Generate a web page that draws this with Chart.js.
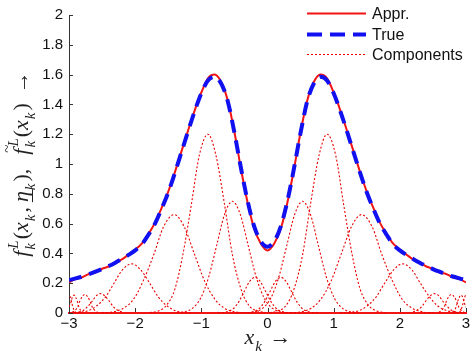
<!DOCTYPE html>
<html>
<head>
<meta charset="utf-8">
<script src="https://cdn.jsdelivr.net/npm/chart.js@4.4.1/dist/chart.umd.min.js"></script>
<style>
  html, body { margin: 0; padding: 0; background: #fff; }
  canvas { display: block; }
</style>
</head>
<body>
<canvas id="myChart" width="474" height="351"></canvas>
<script>
// x grid of the two main curves
const xGrid = [-3, -2.9, -2.8, -2.7, -2.6, -2.5, -2.4, -2.3, -2.2, -2.1, -2, -1.9, -1.8, -1.7, -1.6, -1.5, -1.4, -1.3, -1.2, -1.1,
  -1, -0.9, -0.8, -0.7, -0.6, -0.5, -0.4, -0.3, -0.2, -0.1, 0, 0.1, 0.2, 0.3, 0.4, 0.5, 0.6, 0.7, 0.8, 0.9,
  1, 1.1, 1.2, 1.3, 1.4, 1.5, 1.6, 1.7, 1.8, 1.9, 2, 2.1, 2.2, 2.3, 2.4, 2.5, 2.6, 2.7, 2.8, 2.9, 3];

const trueValues = [0.22, 0.232, 0.245, 0.26, 0.277, 0.295, 0.315, 0.338, 0.363, 0.39, 0.42, 0.46, 0.525, 0.6, 0.7, 0.81, 0.94, 1.08, 1.22, 1.355,
  1.475, 1.56, 1.585, 1.54, 1.42, 1.21, 0.97, 0.75, 0.58, 0.48, 0.445, 0.48, 0.58, 0.75, 0.97, 1.21, 1.42, 1.54, 1.585, 1.56,
  1.475, 1.355, 1.22, 1.08, 0.94, 0.81, 0.7, 0.6, 0.525, 0.46, 0.42, 0.39, 0.363, 0.338, 0.315, 0.295, 0.277, 0.26, 0.245, 0.232, 0.22];

const apprValues = [0.205, 0.228, 0.24, 0.262, 0.272, 0.297, 0.312, 0.34, 0.36, 0.392, 0.425, 0.465, 0.53, 0.605, 0.705, 0.815, 0.945, 1.085, 1.225, 1.36,
  1.48, 1.575, 1.6, 1.55, 1.425, 1.215, 0.965, 0.74, 0.565, 0.465, 0.42, 0.465, 0.565, 0.74, 0.965, 1.215, 1.425, 1.55, 1.6, 1.575,
  1.48, 1.36, 1.225, 1.085, 0.945, 0.815, 0.705, 0.605, 0.53, 0.465, 0.425, 0.392, 0.36, 0.34, 0.312, 0.297, 0.272, 0.262, 0.24, 0.228, 0.205];

// the dotted components, one x list and one y list each
const componentXs = [
  [-1.78, -1.65, -1.53, -1.4, -1.28, -1.15, -1.03, -0.9, -0.78, -0.65, -0.53, -0.4, -0.28, -0.15, -0.03],
  [-1.37, -1.25, -1.13, -1.01, -0.89, -0.77, -0.65, -0.53, -0.41, -0.29, -0.17, -0.05, 0.07, 0.19, 0.31],
  [-2.5, -2.34, -2.19, -2.03, -1.88, -1.72, -1.57, -1.41, -1.26, -1.1, -0.95, -0.79, -0.64, -0.48, -0.33],
  [-2.99, -2.86, -2.72, -2.59, -2.45, -2.32, -2.19, -2.05, -1.92, -1.78, -1.65, -1.51, -1.38, -1.24, -1.11],
  [-0.75, -0.67, -0.59, -0.51, -0.43, -0.35, -0.27, -0.19, -0.11, -0.03, 0.05, 0.13, 0.21, 0.29, 0.37],
  [-2.85, -2.78, -2.72, -2.65, -2.59, -2.52, -2.46, -2.39, -2.33, -2.26, -2.2],
  [-2.95, -2.91, -2.87, -2.84, -2.8, -2.76, -2.72, -2.68, -2.65, -2.61, -2.57],
  [-3.05, -3.02, -3, -2.97, -2.95, -2.92, -2.9, -2.87, -2.85, -2.82, -2.8],
  [-3.1, -3.08, -3.06, -3.04, -3.02, -3, -2.98, -2.96, -2.94, -2.92, -2.9],
  [0.03, 0.15, 0.28, 0.4, 0.53, 0.65, 0.78, 0.9, 1.03, 1.15, 1.28, 1.4, 1.53, 1.65, 1.78],
  [-0.31, -0.19, -0.07, 0.05, 0.17, 0.29, 0.41, 0.53, 0.65, 0.77, 0.89, 1.01, 1.13, 1.25, 1.37],
  [0.34, 0.49, 0.65, 0.8, 0.96, 1.11, 1.27, 1.42, 1.58, 1.73, 1.89, 2.04, 2.2, 2.35, 2.51],
  [1.1, 1.23, 1.37, 1.5, 1.64, 1.77, 1.91, 2.04, 2.18, 2.31, 2.45, 2.58, 2.72, 2.85, 2.99],
  [-0.36, -0.28, -0.2, -0.12, -0.04, 0.04, 0.12, 0.2, 0.28, 0.36, 0.44, 0.52, 0.6, 0.68, 0.76],
  [2.2, 2.26, 2.33, 2.39, 2.46, 2.52, 2.59, 2.65, 2.72, 2.78, 2.85],
  [2.59, 2.63, 2.67, 2.7, 2.74, 2.78, 2.82, 2.86, 2.89, 2.93, 2.97],
  [2.8, 2.82, 2.85, 2.87, 2.9, 2.92, 2.95, 2.97, 3, 3.02, 3.05],
  [2.9, 2.92, 2.94, 2.96, 2.98, 3, 3.02, 3.04, 3.06, 3.08, 3.1]
];

const componentYs = [
  [0.003, 0.013, 0.05, 0.16, 0.39, 0.73, 1.06, 1.2, 1.06, 0.73, 0.39, 0.16, 0.05, 0.013, 0.003],
  [0.002, 0.008, 0.033, 0.1, 0.24, 0.45, 0.66, 0.75, 0.66, 0.45, 0.24, 0.1, 0.033, 0.008, 0.002],
  [0.001, 0.007, 0.029, 0.089, 0.214, 0.39, 0.58, 0.66, 0.58, 0.39, 0.214, 0.089, 0.029, 0.007, 0.001],
  [0.001, 0.004, 0.014, 0.045, 0.107, 0.2, 0.291, 0.33, 0.291, 0.2, 0.107, 0.045, 0.014, 0.004, 0.001],
  [0.001, 0.003, 0.011, 0.032, 0.078, 0.146, 0.212, 0.24, 0.212, 0.146, 0.078, 0.032, 0.011, 0.003, 0.001],
  [0.006, 0.018, 0.042, 0.079, 0.115, 0.13, 0.115, 0.079, 0.042, 0.018, 0.006],
  [0.005, 0.017, 0.041, 0.076, 0.11, 0.125, 0.11, 0.076, 0.041, 0.017, 0.005],
  [0.005, 0.016, 0.039, 0.073, 0.106, 0.12, 0.106, 0.073, 0.039, 0.016, 0.005],
  [0.005, 0.016, 0.039, 0.073, 0.106, 0.12, 0.106, 0.073, 0.039, 0.016, 0.005],
  [0.003, 0.013, 0.05, 0.16, 0.39, 0.73, 1.06, 1.2, 1.06, 0.73, 0.39, 0.16, 0.05, 0.013, 0.003],
  [0.002, 0.008, 0.033, 0.1, 0.24, 0.45, 0.66, 0.75, 0.66, 0.45, 0.24, 0.1, 0.033, 0.008, 0.002],
  [0.001, 0.007, 0.029, 0.089, 0.214, 0.39, 0.58, 0.66, 0.58, 0.39, 0.214, 0.089, 0.029, 0.007, 0.001],
  [0.001, 0.004, 0.014, 0.045, 0.107, 0.2, 0.291, 0.33, 0.291, 0.2, 0.107, 0.045, 0.014, 0.004, 0.001],
  [0.001, 0.003, 0.011, 0.032, 0.078, 0.146, 0.212, 0.24, 0.212, 0.146, 0.078, 0.032, 0.011, 0.003, 0.001],
  [0.006, 0.018, 0.042, 0.079, 0.115, 0.13, 0.115, 0.079, 0.042, 0.018, 0.006],
  [0.005, 0.017, 0.041, 0.076, 0.11, 0.125, 0.11, 0.076, 0.041, 0.017, 0.005],
  [0.005, 0.016, 0.039, 0.073, 0.106, 0.12, 0.106, 0.073, 0.039, 0.016, 0.005],
  [0.005, 0.016, 0.039, 0.073, 0.106, 0.12, 0.106, 0.073, 0.039, 0.016, 0.005]
];

const legendLabels = ["Appr.", "True", "Components"];
const xTicks = [-3, -2, -1, 0, 1, 2, 3];
const yTicks = [0, 0.2, 0.4, 0.6, 0.8, 1, 1.2, 1.4, 1.6, 1.8, 2];

const RED = "#f01414";
const BLUE = "#1010f0";
const DOT_RED = "rgba(235,0,0,1)";

function points(xs, ys){
	let pts = [];
	for(let i = 0; i < xs.length; i++){
		pts.push({x: xs[i], y: ys[i]});
	}
	return pts;
}

// text with sub/superscripts, returns its width
function drawRich(ctx, parts, x0, y, size, draw){
	let x = x0;
	let small = Math.round(size * 0.7);
	for(let i = 0; i < parts.length; i++){
		let p = parts[i];
		if(p.t !== undefined){
			ctx.font = (p.it ? "italic " : "") + size + "px 'Liberation Serif'";
			let w = ctx.measureText(p.t).width;
			if(draw){
				ctx.fillText(p.t, x, y);
				if(p.ul){
					ctx.fillRect(x, y + 4, w + 2, 1);
				}
				if(p.tilde){
					ctx.font = small + "px 'Liberation Serif'";
					ctx.fillText("~", x + 2, y - size * 0.74);
				}
			}
			x += w + (p.gap || 0);
		} else {
			ctx.font = "italic " + small + "px 'Liberation Serif'";
			let w1 = p.sup ? ctx.measureText(p.sup).width : 0;
			let w2 = p.sub ? ctx.measureText(p.sub).width : 0;
			if(draw){
				if(p.sup) ctx.fillText(p.sup, x + 2, y - size * 0.45);
				if(p.sub) ctx.fillText(p.sub, x + 1, y + size * 0.3);
			}
			x += Math.max(w1, w2) + 3;
		}
	}
	return x - x0;
}

const yTitle = [
	{t: "f", it: 1}, {sup: "L", sub: "k"}, {t: "("}, {t: "x", it: 1}, {sub: "k"}, {t: ",", gap: 5},
	{t: "\u03B7", it: 1, ul: 1}, {sub: "k"}, {t: "),", gap: 14},
	{t: "f", it: 1, tilde: 1}, {sup: "L", sub: "k"}, {t: "("}, {t: "x", it: 1}, {sub: "k"}, {t: ")", gap: 10}, {t: "\u2192"}
];
const xTitle = [{t: "x", it: 1}, {sub: "k", gap: 0}, {t: " \u2192"}];

const decorPlugin = {
	id: "decor",
	afterDraw(chart){
		let ctx = chart.ctx;
		let a = chart.chartArea;
		let sx = chart.scales.x;
		let sy = chart.scales.y;
		ctx.save();

		// inward tick marks
		ctx.strokeStyle = "#333";
		ctx.lineWidth = 1;
		ctx.beginPath();
		for(let i = 0; i < yTicks.length; i++){
			let py = Math.round(sy.getPixelForValue(yTicks[i])) + 0.5;
			ctx.moveTo(a.left, py);
			ctx.lineTo(a.left + 4, py);
		}
		for(let i = 0; i < xTicks.length; i++){
			let px = Math.round(sx.getPixelForValue(xTicks[i])) + 0.5;
			ctx.moveTo(px, a.bottom - 1);
			ctx.lineTo(px, a.bottom - 5);
		}
		ctx.stroke();

		// legend
		let styles = [
			{color: RED, width: 2, dash: []},
			{color: BLUE, width: 4, dash: [15, 8]},
			{color: DOT_RED, width: 1, dash: [2, 2]}
		];
		let rows = [13.5, 34.5, 54.5];
		for(let i = 0; i < legendLabels.length; i++){
			ctx.strokeStyle = styles[i].color;
			ctx.lineWidth = styles[i].width;
			ctx.setLineDash(styles[i].dash);
			ctx.beginPath();
			ctx.moveTo(307, rows[i]);
			ctx.lineTo(366, rows[i]);
			ctx.stroke();
			ctx.setLineDash([]);
			ctx.fillStyle = "#111";
			ctx.font = "16px 'Liberation Sans'";
			ctx.textBaseline = "middle";
			ctx.fillText(legendLabels[i], 372, rows[i] + 1);
		}

		// axis titles
		ctx.fillStyle = "#222";
		ctx.textBaseline = "alphabetic";
		let w = drawRich(ctx, xTitle, 0, 0, 22, false);
		drawRich(ctx, xTitle, 268 - w / 2, 344, 22, true);

		ctx.translate(28, 164);
		ctx.rotate(-Math.PI / 2);
		w = drawRich(ctx, yTitle, 0, 0, 22, false);
		drawRich(ctx, yTitle, -w / 2, 0, 22, true);
		ctx.restore();
	}
};

function buildDatasets(){
	let datasets = [];
	datasets.push({
		label: legendLabels[1],
		data: points(xGrid, trueValues),
		borderColor: BLUE,
		borderWidth: 4,
		borderDash: [13, 8],
		order: 0
	});
	datasets.push({
		label: legendLabels[0],
		data: points(xGrid, apprValues),
		borderColor: RED,
		borderWidth: 2,
		order: 1
	});
	for(let i = 0; i < componentXs.length; i++){
		datasets.push({
			label: legendLabels[2],
			data: points(componentXs[i], componentYs[i]),
			borderColor: DOT_RED,
			borderWidth: 1.1,
			borderDash: [2, 2],
			order: 2
		});
	}
	return datasets;
}

const ctx = document.getElementById("myChart").getContext("2d");

let chart = new Chart(ctx, {
	type: "line",
	data: { datasets: buildDatasets() },
	options: {
		responsive: false,
		animation: false,
		devicePixelRatio: 1,
		layout: { padding: { top: 8, right: 8, left: 0, bottom: 0 } },
		elements: {
			point: { radius: 0 },
			line: { cubicInterpolationMode: "monotone", fill: false }
		},
		plugins: {
			legend: { display: false },
			tooltip: { enabled: false }
		},
		scales: {
			x: {
				type: "linear",
				min: -3,
				max: 3,
				afterFit: function(s){ s.height = 38; },
				afterBuildTicks: function(s){ s.ticks = xTicks.map(v => ({value: v})); },
				ticks: {
					padding: 2,
					color: "#111",
					font: { family: "'Liberation Sans'", size: 15 },
					callback: v => v < 0 ? "\u2212" + Math.abs(v) : String(v)
				},
				grid: { drawOnChartArea: false, drawTicks: false },
				border: { color: RED, width: 2 }
			},
			y: {
				min: 0,
				max: 2,
				afterFit: function(s){ s.width = 69; },
				afterBuildTicks: function(s){ s.ticks = yTicks.map(v => ({value: v})); },
				ticks: {
					padding: 6,
					color: "#111",
					font: { family: "'Liberation Sans'", size: 15 },
					callback: v => String(Number(v.toFixed(1)))
				},
				grid: { drawOnChartArea: false, drawTicks: false },
				border: { color: "#333", width: 1 }
			}
		}
	},
	plugins: [decorPlugin]
});
</script>
</body>
</html>
